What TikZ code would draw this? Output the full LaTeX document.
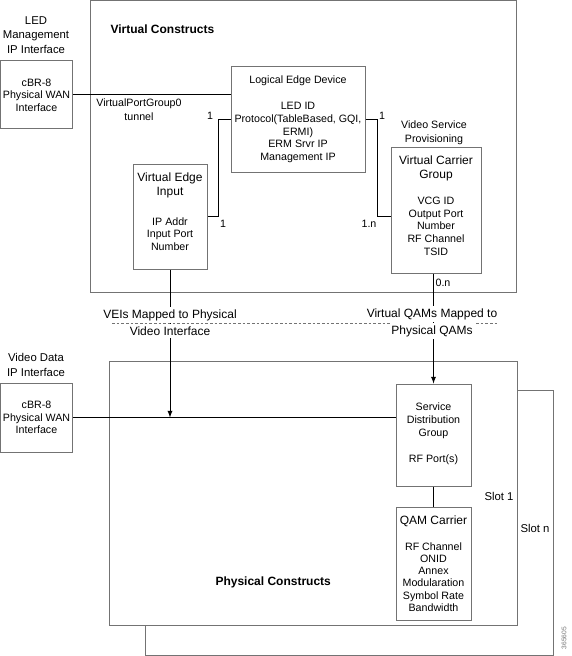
\documentclass[tikz,border=0pt]{standalone}
\usepackage{fontspec}
\setmainfont{Liberation Sans}
\usepackage{tikz}
\usetikzlibrary{calc}
\definecolor{boxgray}{rgb}{0.45,0.45,0.45}
\newcommand{\ttlfont}{\fontsize{9}{11}\selectfont}

\begin{document}
\begin{tikzpicture}
  [x=0.75pt,y=-0.75pt,line width=0.75pt,
   boxN/.style={draw=boxgray,fill=white,align=center,inner sep=0pt,font=\fontsize{8}{9.5}\selectfont},
   frameN/.style={draw=boxgray,fill=white},
   lblN/.style={align=center,inner sep=1pt,font=\fontsize{8}{10.5}\selectfont},
   hdrN/.style={align=center,inner sep=1pt,font=\fontsize{8.5}{11}\selectfont},
   mapN/.style={fill=white,inner xsep=1pt,inner ysep=2pt,font=\fontsize{9}{11}\selectfont},
   titleN/.style={anchor=west,inner sep=0pt,font=\fontsize{9}{11}\selectfont\bfseries},
  ]
 \useasboundingbox (0,0) rectangle (571,656);

 % containers
 \draw[frameN] (90,1) rectangle (516.5,292.5);
 \draw[frameN] (145,390) rectangle (553,655);
 \draw[frameN] (109,361) rectangle (517,625);

 \node[titleN] (vcT) at (110,29)  {Virtual Constructs};
 \node[titleN] (pcT) at (215,582) {Physical Constructs};

 % boxes
 \node[boxN,minimum width=54pt,minimum height=51pt]    (wanT) at (36.5,95)
   {cBR-8\\Physical WAN\\Interface};
 \node[boxN,minimum width=100.5pt,minimum height=78.75pt] (led) at (298,119.5)
   {Logical Edge Device\\[10pt]LED ID\\Protocol(TableBased, GQI,\\ERMI)\\ERM Srvr IP\\Management IP};
 \node[boxN,minimum width=55.5pt,minimum height=78.75pt]  (vei) at (170,216.5)
   {\ttlfont Virtual Edge\\[1pt]\ttlfont Input\\[13pt]IP Addr\\Input Port\\Number\\[-2pt]\mbox{}};
 \node[boxN,minimum width=67.5pt,minimum height=93.75pt]  (vcg) at (436,210.5)
   {\ttlfont Virtual Carrier\\[1pt]\ttlfont Group\\[10pt]VCG ID\\Output Port\\Number\\RF Channel\\TSID\\[-2pt]\mbox{}};
 \node[boxN,minimum width=54pt,minimum height=51.75pt] (wanB) at (36.5,417.5)
   {cBR-8\\Physical WAN\\Interface};
 \node[boxN,minimum width=56.25pt,minimum height=76.5pt]  (sdg) at (433.5,435)
   {Service\\Distribution\\Group\\[10pt]RF Port(s)\\[-6pt]\mbox{}};
 \node[boxN,minimum width=56.25pt,minimum height=84.75pt] (qam) at (433.5,563.5)
   {\ttlfont QAM Carrier\\[10pt]RF Channel\\[-0.3pt]ONID\\[-0.3pt]Annex\\[-0.3pt]Modularation\\[-0.3pt]Symbol Rate\\[-0.3pt]Bandwidth};

 % headers and labels
 \node[hdrN] (ledH) at (36,35)   {LED\\Management\\IP Interface};
 \node[hdrN] (vidH) at (36,365)  {Video Data\\IP Interface};
 \node[lblN] (vpg)  at (139,110) {VirtualPortGroup0\\tunnel};
 \node[lblN] (vsp)  at (434,132.5) {Video Service\\Provisioning};
 \node[lblN] (n1a)  at (210,116) {1};
 \node[lblN] (n1b)  at (223,224) {1};
 \node[lblN] (n1c)  at (382,116) {1};
 \node[lblN] (n1n)  at (369,224) {1.n};
 \node[lblN] (n0n)  at (443,283) {0.n};
 \node[hdrN] (s1)   at (499,496) {Slot 1};
 \node[hdrN] (sn)   at (535,528) {Slot n};
 \node[inner sep=0pt,rotate=90,text=boxgray,font=\fontsize{5}{6}\selectfont] (fig) at (564,638) {365605};

 % connectors
 \coordinate (dashL) at (112,323.7);
 \coordinate (dashR) at (498,323.7);
 \draw[dash pattern=on 2pt off 1.5pt,boxgray] (dashL) -- (dashR);

 \draw (wanT.east) -- (wanT.east -| led.west);
 \draw (led.west) -- ++(-12,0) |- (vei.east);
 \draw (led.east) -- ++(12,0) |- ($(vcg.west)+(0,5.5)$);
 \draw (wanB.east) -- (wanB.east -| sdg.west);
 \draw[-latex] (vei.south) -- (vei.south |- wanB.east);
 \draw[-latex] (sdg.north |- vcg.south) -- (sdg.north);
 \draw (sdg.south) -- (qam.north);

 \node[mapN] (veiM1) at (170,315) {VEIs Mapped to Physical};
 \node[mapN] (veiM2) at (170,331) {Video Interface};
 \node[mapN] (qamM1) at (432,314) {Virtual QAMs Mapped to};
 \node[mapN] (qamM2) at (432,331) {Physical QAMs};

\end{tikzpicture}
\end{document}
